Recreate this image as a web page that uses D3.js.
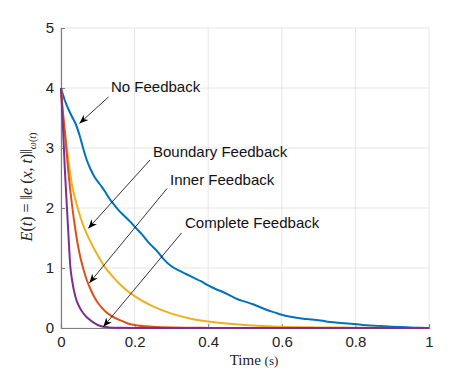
<!DOCTYPE html>
<html><head><meta charset="utf-8">
<script src="https://cdn.jsdelivr.net/npm/d3@7"></script>
<style>body{margin:0;background:#fff}svg{display:block}</style>
</head><body>
<script>
const seriesNames = ["No Feedback","Boundary Feedback","Inner Feedback","Complete Feedback"];
const colors = ["#0072BD","#EDB120","#D95319","#7E2F8E"];
const xTicks = [0,0.2,0.4,0.6,0.8,1];
const yTicks = [0,1,2,3,4,5];

const noFbT = [0,0.01,0.02,0.03,0.04,0.05,0.06,0.07,0.08,0.09,0.1,0.11,0.12,0.13,0.14,0.15,0.16,0.17,0.18,0.19,0.2,0.22,0.24,0.26,0.28,0.3,0.32,0.34,0.36,0.38,0.4,0.42,0.44,0.46,0.48,0.5,0.52,0.54,0.56,0.58,0.6,0.62,0.64,0.66,0.68,0.7,0.72,0.74,0.76,0.78,0.8,0.82,0.84,0.86,0.88,0.9,0.92,0.94,0.96,0.98,1];
const noFbV = [4,3.8,3.65,3.52,3.4,3.22,3.0,2.8,2.65,2.53,2.44,2.36,2.27,2.17,2.09,2.01,1.94,1.88,1.82,1.76,1.69,1.56,1.41,1.29,1.14,1.03,0.96,0.9,0.84,0.78,0.71,0.65,0.6,0.54,0.48,0.44,0.4,0.35,0.3,0.26,0.22,0.19,0.17,0.155,0.14,0.13,0.11,0.095,0.085,0.075,0.065,0.052,0.042,0.034,0.03,0.022,0.016,0.011,0.006,0.003,0];

const boundT = [0,0.005,0.01,0.02,0.03,0.04,0.05,0.06,0.07,0.08,0.1,0.12,0.14,0.16,0.18,0.2,0.25,0.3,0.35,0.4,0.45,0.5,0.55,0.6,0.7,0.8,0.9,1];
const boundV = [4,3.6,3.3,2.8,2.38,2.12,1.9,1.72,1.57,1.44,1.21,1.01,0.86,0.73,0.62,0.53,0.36,0.24,0.16,0.11,0.075,0.05,0.033,0.02,0.01,0.005,0.002,0];

const innerT = [0,0.005,0.01,0.02,0.03,0.04,0.05,0.06,0.07,0.08,0.09,0.1,0.12,0.14,0.16,0.18,0.2,0.25,0.3,0.4,0.5,1];
const innerV = [4,3.6,3.3,2.6,2.05,1.6,1.25,1.0,0.8,0.65,0.52,0.42,0.28,0.19,0.13,0.08,0.05,0.02,0.008,0.002,0,0];

const compT = [0,0.005,0.01,0.015,0.02,0.025,0.03,0.04,0.05,0.06,0.07,0.08,0.09,0.1,0.115,0.13,0.16,0.2,0.3,1];
const compV = [4,3.4,2.7,2.13,1.58,1.05,0.8,0.5,0.35,0.25,0.18,0.13,0.085,0.05,0.02,0.01,0.004,0.001,0,0];

const series = [[noFbT,noFbV],[boundT,boundV],[innerT,innerV],[compT,compV]];

// annotations: label text, text position, arrow from, arrow to (data coords for tip)
const annText = ["No Feedback","Boundary Feedback","Inner Feedback","Complete Feedback"];

const W=474,H=372;
const svg=d3.select("body").append("svg").attr("width",W).attr("height",H);
const x=d3.scaleLinear().domain([0,1]).range([61,429]);
const y=d3.scaleLinear().domain([0,5]).range([328,28]);

// grid
const g=svg.append("g");
g.selectAll(".gx").data(xTicks).join("line").attr("x1",d=>x(d)).attr("x2",d=>x(d)).attr("y1",y(0)).attr("y2",y(5)).attr("stroke","#e6e6e6").attr("stroke-width",1);
g.selectAll(".gy").data(yTicks).join("line").attr("y1",d=>y(d)).attr("y2",d=>y(d)).attr("x1",x(0)).attr("x2",x(1)).attr("stroke","#e6e6e6").attr("stroke-width",1);

// axes
const fontT="'Liberation Sans', Arial, sans-serif";
const xa=svg.append("g").attr("transform",`translate(0,${y(0)})`).call(d3.axisBottom(x).tickValues(xTicks).tickFormat(d=>d3.format("")(d)).tickSize(-4).tickPadding(10));
const ya=svg.append("g").attr("transform",`translate(${x(0)},0)`).call(d3.axisLeft(y).tickValues(yTicks).tickFormat(d3.format("d")).tickSize(-4).tickPadding(7));
[xa,ya].forEach(a=>{a.select(".domain").attr("stroke","#7f7f7f").attr("stroke-width",1.2);a.selectAll(".tick line").attr("stroke","#7f7f7f");a.selectAll("text").attr("font-family",fontT).attr("font-size",15).attr("fill","#222");});
xa.selectAll("text").attr("dy","0.6em");

// lines
const line=d3.line().x(d=>x(d[0])).y(d=>y(d[1])).curve(d3.curveMonotoneX);
series.forEach((s,i)=>{
  const pts=s[0].map((t,j)=>[t,s[1][j]]);
  svg.append("path").attr("d",line(pts)).attr("fill","none").attr("stroke",colors[i]).attr("stroke-width",2);
});

// arrows
const defs=svg.append("defs");
defs.append("marker").attr("id","ah").attr("viewBox","0 0 10 10").attr("refX",10).attr("refY",5).attr("markerWidth",9).attr("markerHeight",9).attr("markerUnits","userSpaceOnUse").attr("orient","auto")
 .append("path").attr("d","M0,1 L10,5 L0,9 L3,5 Z").attr("fill","#000");
const annPos=[[111,92],[153,157],[170,185],[185,228]];
const arrFrom=[[108.5,97],[150,160],[167,188.5],[181.5,233]];
const arrTo=[[x(0.05),y(3.41)],[x(0.074),y(1.66)],[x(0.077),y(0.75)],[x(0.115),y(0.02)]];
annText.forEach((t,i)=>{
  svg.append("line").attr("x1",arrFrom[i][0]).attr("y1",arrFrom[i][1]).attr("x2",arrTo[i][0]).attr("y2",arrTo[i][1]).attr("stroke","#000").attr("stroke-width",0.8).attr("marker-end","url(#ah)");
  svg.append("text").attr("x",annPos[i][0]).attr("y",annPos[i][1]).attr("font-family",fontT).attr("font-size",15).attr("fill","#111").text(t);
});

// axis labels
const serif="'Liberation Serif','Times New Roman',serif";
const xl=svg.append("text").attr("x",254).attr("y",365).attr("text-anchor","middle").attr("font-family",serif).attr("font-size",15).attr("fill","#222");
xl.append("tspan").text("Time ");
xl.append("tspan").attr("font-size",13).text("(s)");

const yl=svg.append("text").attr("transform","translate(32,187) rotate(-90)").attr("text-anchor","middle").attr("font-family",serif).attr("font-size",16).attr("fill","#222");
const parts=[["E",1],["(",0],["t",1],[")",0],[" = ‖",0],["e",1],[" (",0],["x",1],[", ",0],["t",1],[")",0],["‖",0]];
parts.forEach(p=>yl.append("tspan").attr("font-style",p[1]?"italic":"normal").text(p[0]));
yl.append("tspan").attr("font-size",10).attr("dy",4).attr("font-style","italic").text("ω");
yl.append("tspan").attr("font-size",10).text("(");
yl.append("tspan").attr("font-size",10).attr("font-style","italic").text("t");
yl.append("tspan").attr("font-size",10).text(")");
</script>
</body></html>
